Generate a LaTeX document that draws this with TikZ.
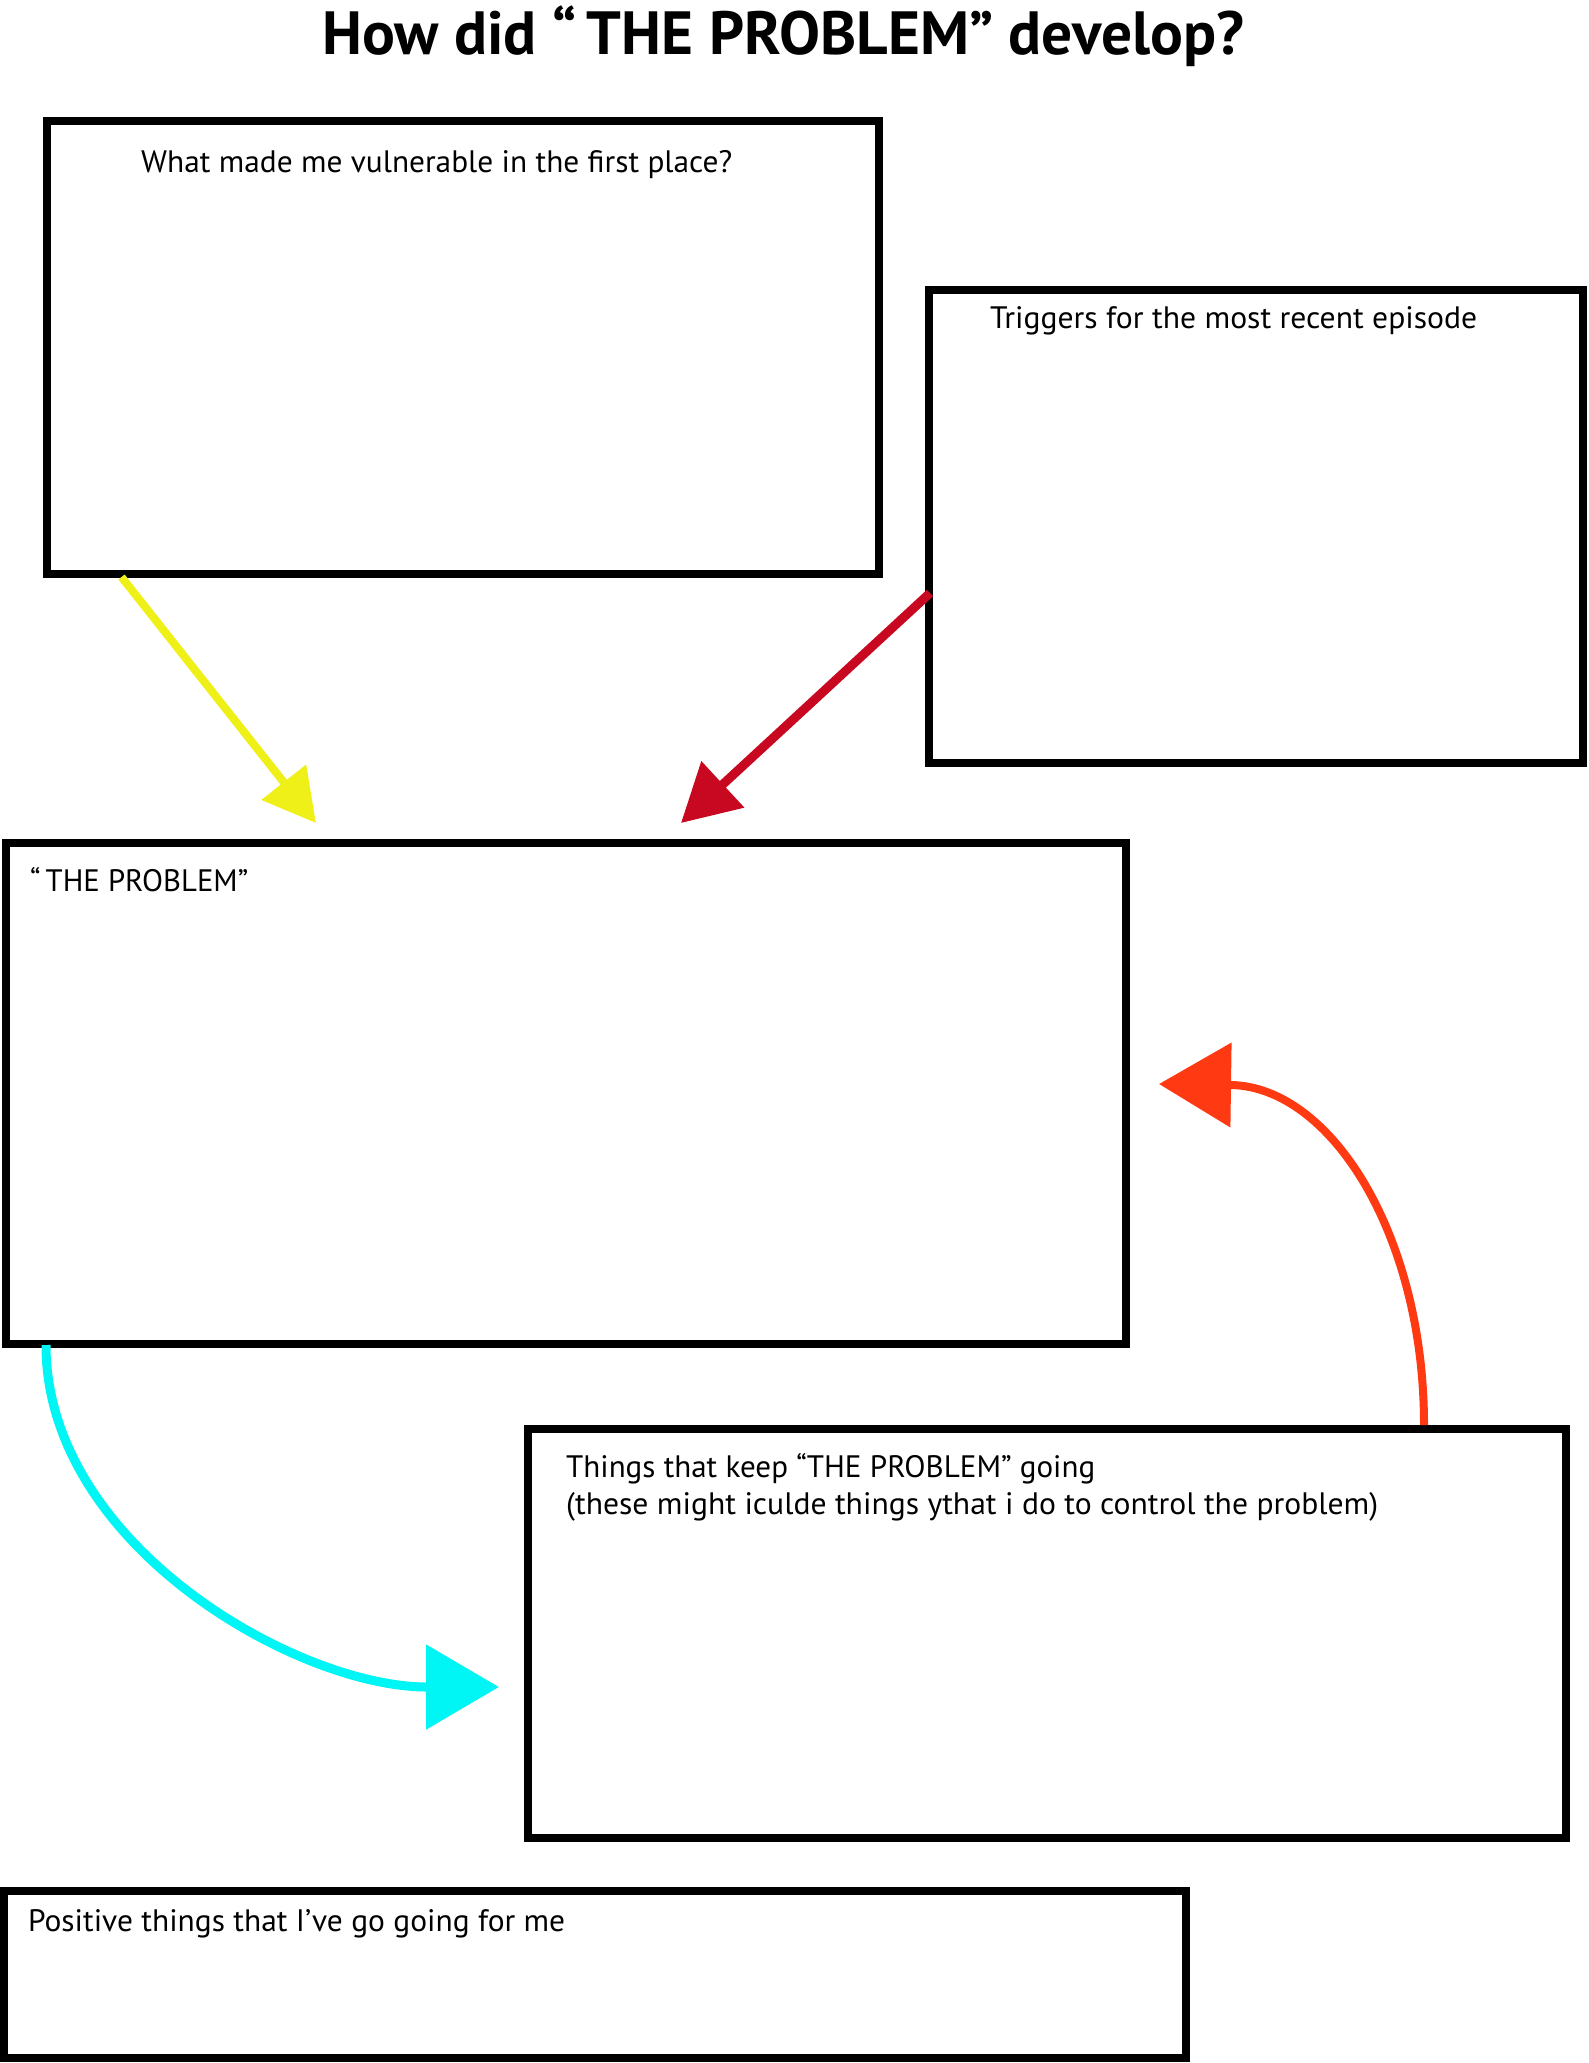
\documentclass[tikz,border=0pt]{standalone}
\usepackage{fontspec}
\usepackage{graphicx}
\setmainfont{PT Sans}
\usetikzlibrary{arrows.meta}
\definecolor{ycol}{RGB}{240,240,25}
\definecolor{rcol}{RGB}{200,8,32}
\definecolor{ocol}{RGB}{255,58,18}
\definecolor{ccol}{RGB}{0,245,245}
\newlength\fitlen
\newcommand\fitw[2]{\settowidth\fitlen{#2}\pgfmathsetmacro\fitr{#1/\fitlen}\scalebox{\fitr}[1]{#2}}
\begin{document}
\begin{tikzpicture}[x=1pt,y=-1pt,
  boxnode/.style={draw=black,line width=8pt,rectangle,inner sep=0pt,fill=white},
  lbl/.style={anchor=base west,inner sep=0pt,font=\fontsize{31}{37}\selectfont},
  ttl/.style={anchor=base west,inner sep=0pt,font=\fontsize{61}{70}\selectfont\bfseries},
  yarrow/.style={draw=ycol,line width=8pt,-{Triangle[length=52pt,width=55pt,fill=ycol]}},
  rarrow/.style={draw=rcol,line width=9pt,-{Triangle[length=57pt,width=61pt,fill=rcol]}},
  oarrow/.style={draw=ocol,line width=8pt,-{Triangle[length=72pt,width=83pt,fill=ocol]}},
  carrow/.style={draw=ccol,line width=9pt,-{Triangle[length=73pt,width=83pt,fill=ccol]}}]
\fill[white] (0,0) rectangle (1588,2063);
\useasboundingbox (0,0) rectangle (1588,2063);

\node[ttl] (title) at (322,55) {\fitw{922}{How did “\,THE PROBLEM” develop?}};

\node[boxnode,minimum width=832pt,minimum height=453pt] (b1) at (463,347.5) {};
\node[boxnode,minimum width=654pt,minimum height=473pt] (b2) at (1256,526.5) {};
\node[boxnode,minimum width=1120pt,minimum height=501pt] (b3) at (566,1093.5) {};
\node[boxnode,minimum width=1038pt,minimum height=409pt] (b4) at (1047,1633.5) {};
\node[boxnode,minimum width=1182pt,minimum height=167pt] (b5) at (595,1974.5) {};

\node[lbl] (t1) at (141,173) {\fitw{591}{What made me vulnerable in the first place?}};
\node[lbl] (t2) at (990,328) {\fitw{487}{Triggers for the most recent episode}};
\node[lbl] (t3) at (30,891) {\fitw{218}{“\,THE PROBLEM”}};
\node[lbl] (t4a) at (566,1477) {\fitw{529}{Things that keep “THE PROBLEM” going}};
\node[lbl] (t4b) at (566,1514) {\fitw{812}{(these might iculde things ythat i do to control the problem)}};
\node[lbl] (t5) at (28,1931) {\fitw{537}{Positive things that I’ve go going for me}};

\coordinate (ys) at (121.5,577);
\coordinate (yt) at (316,823);
\coordinate (rs) at (930,593);
\coordinate (rt) at (681,823);
\coordinate (os) at (1424,1425);
\coordinate (oj) at (1231,1085);
\coordinate (ot) at (1159,1084);
\coordinate (cs) at (46,1345);
\coordinate (cj) at (427,1687);
\coordinate (ct) at (499,1687);

\draw[yarrow] (ys) -- (yt);
\draw[rarrow] (rs) -- (rt);
\draw[oarrow] (os) .. controls (1424,1235) and (1331,1087) .. (oj) -- (ot);
\draw[carrow] (cs) .. controls (46,1545) and (297,1687) .. (cj) -- (ct);
\end{tikzpicture}
\end{document}
